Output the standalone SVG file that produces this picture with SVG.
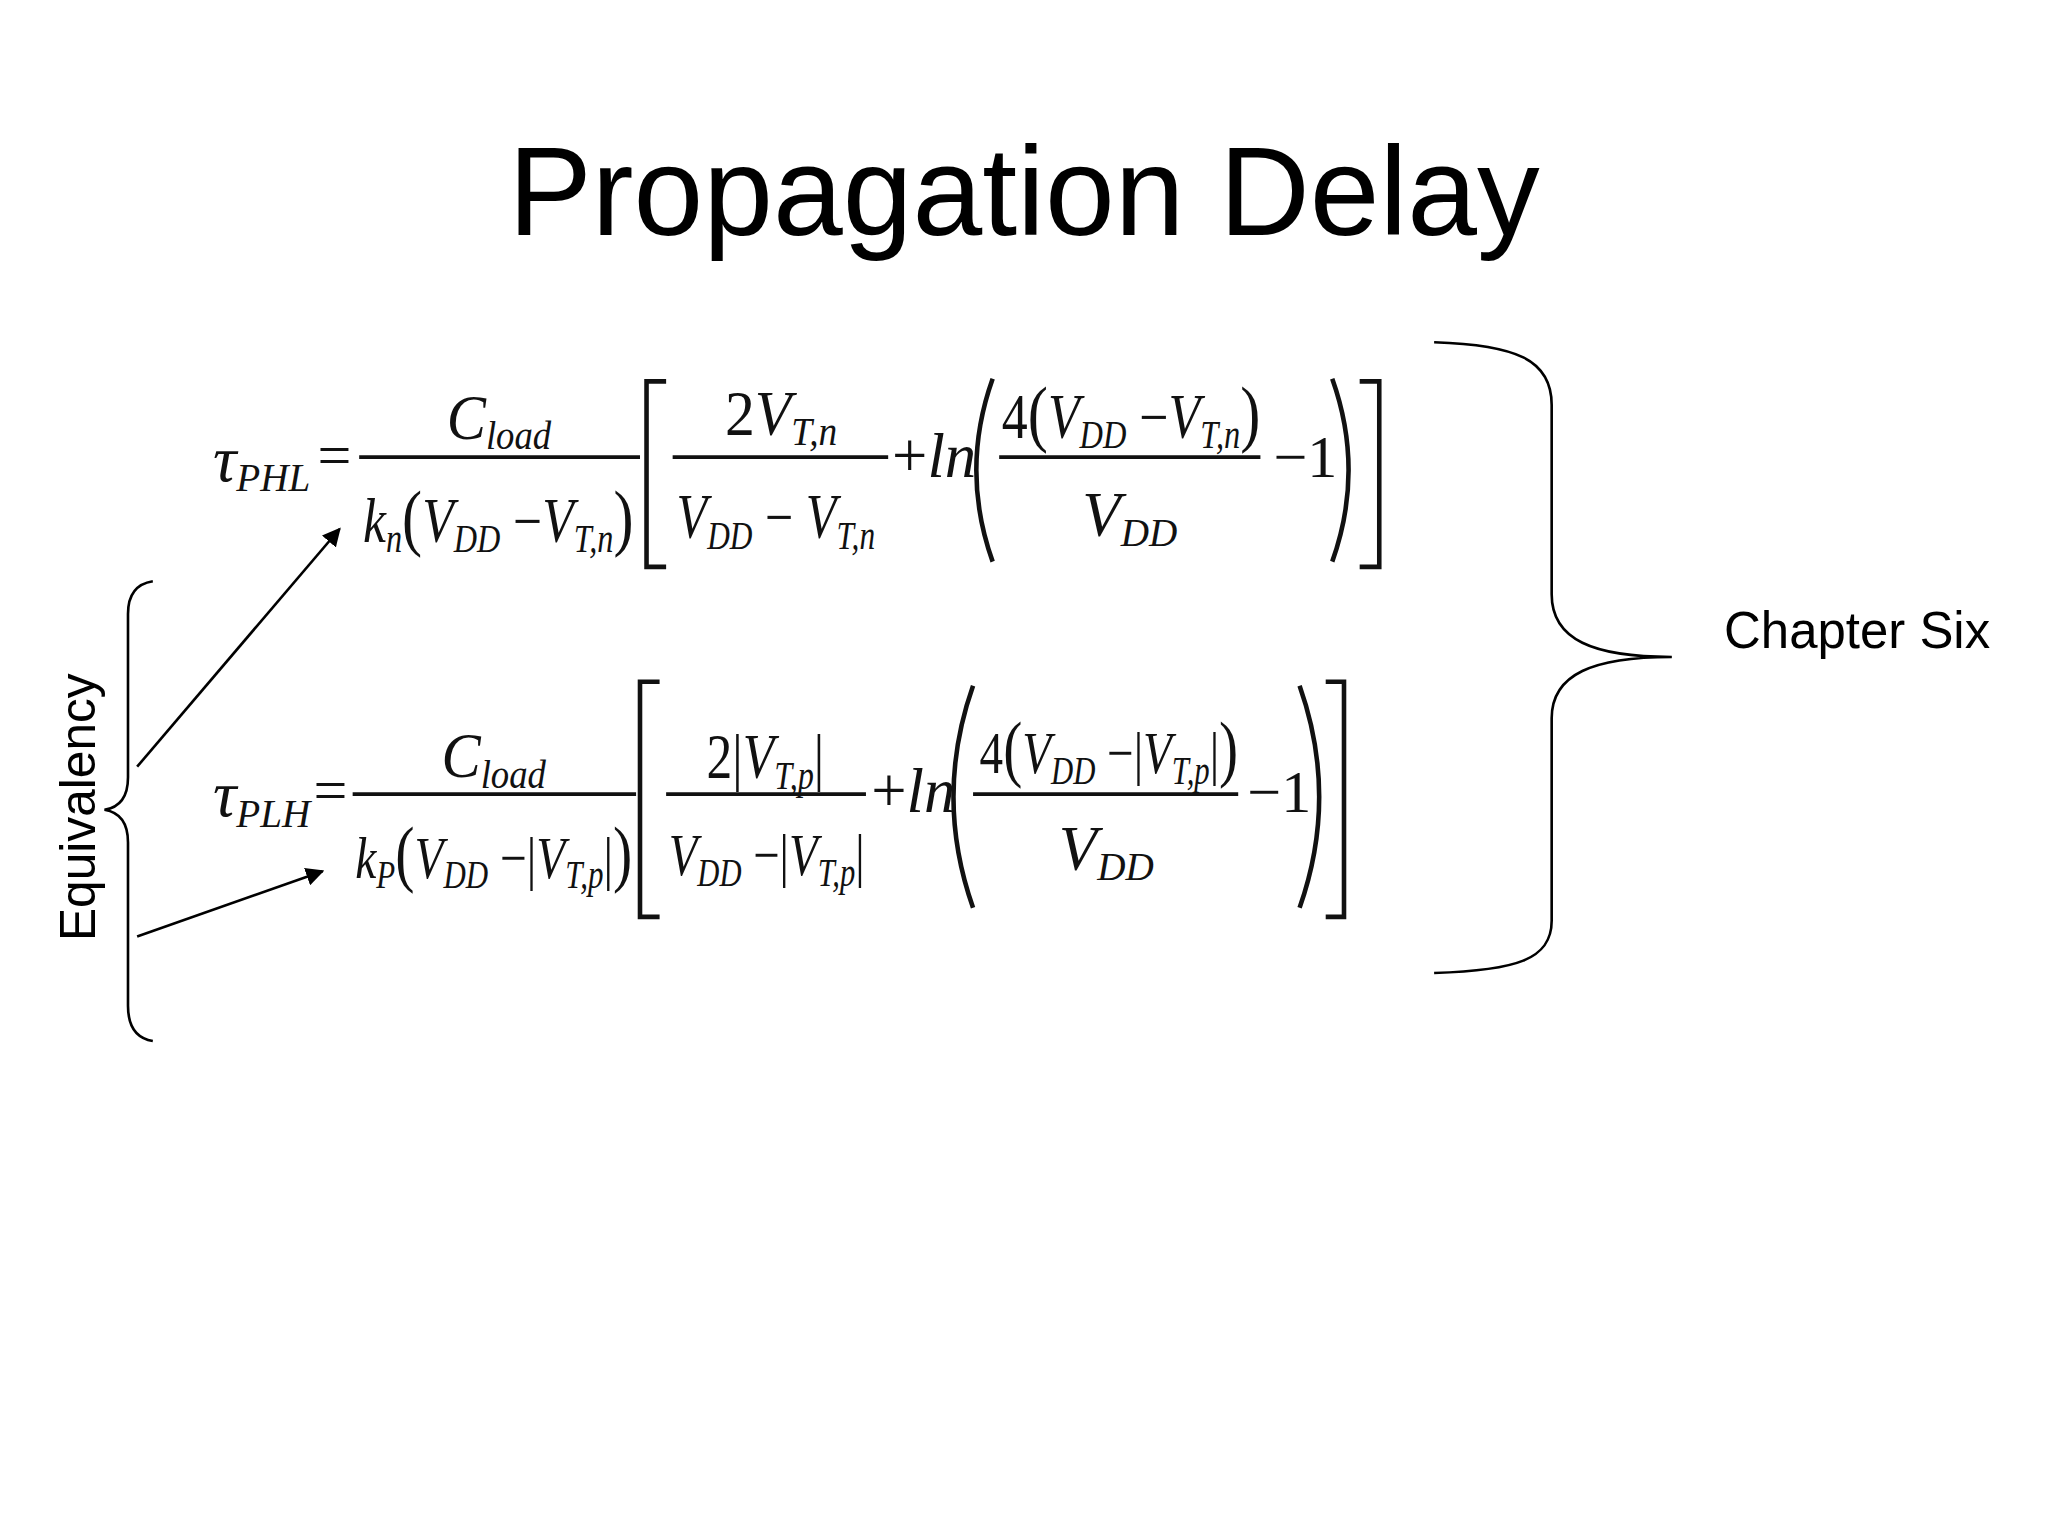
<svg xmlns="http://www.w3.org/2000/svg" width="2048" height="1536" viewBox="0 0 2048 1536">
<style>
.t{font-family:"Liberation Sans",Arial,sans-serif;fill:#000}
.m{font-family:"Liberation Serif","Times New Roman",serif;font-style:italic;fill:#111}
.r{font-family:"Liberation Serif","Times New Roman",serif;fill:#111}
.ln{stroke:#111;stroke-width:3;fill:none}
.d{stroke:#111;stroke-width:3.5;fill:none}
.c{stroke:#000;stroke-width:2;fill:none}
</style>
<defs><marker id="ah" viewBox="0 0 10 10" refX="9" refY="5" markerWidth="7" markerHeight="7" orient="auto"><path d="M0,0L10,5L0,10z" fill="#000"/></marker></defs>
<rect width="2048" height="1536" fill="#fff"/>
<g transform="scale(1.306122)">
<g id="title"><text class="t" x="784" y="180" font-size="96" text-anchor="middle">Propagation Delay</text></g>

<g id="eq1">
<text class="m" x="163" y="368" font-size="50">τ<tspan font-size="30" dy="8">PHL</tspan></text>
<text class="r" x="243" y="364" font-size="46">=</text>
<text class="m" x="382" y="336" font-size="48" text-anchor="middle" textLength="80" lengthAdjust="spacingAndGlyphs">C<tspan font-size="30" dy="8">load</tspan></text>
<line class="ln" x1="275" y1="350" x2="490" y2="350"/>
<text class="m" x="278" y="415" font-size="48" textLength="207" lengthAdjust="spacingAndGlyphs">k<tspan font-size="30" dy="8">n</tspan><tspan dy="-8" font-style="normal" font-size="56">(</tspan>V<tspan font-size="30" dy="8">DD</tspan><tspan dy="-8" font-style="normal"> −</tspan>V<tspan font-size="30" dy="8">T,n</tspan><tspan dy="-8" font-style="normal" font-size="56">)</tspan></text>
<path class="d" d="M510,292H495V434H510"/>
<text class="m" x="598" y="333" font-size="48" text-anchor="middle" textLength="86" lengthAdjust="spacingAndGlyphs"><tspan font-style="normal">2</tspan>V<tspan font-size="30" dy="8">T,n</tspan></text>
<line class="ln" x1="515" y1="350" x2="680" y2="350"/>
<text class="m" x="518" y="412" font-size="48" textLength="152" lengthAdjust="spacingAndGlyphs">V<tspan font-size="30" dy="8">DD</tspan><tspan dy="-8" font-style="normal"> − </tspan>V<tspan font-size="30" dy="8">T,n</tspan></text>
<text class="m" x="683" y="365" font-size="48"><tspan font-style="normal">+</tspan>ln</text>
<path class="d" d="M760,290Q735,360 760,430"/>
<text class="m" x="767" y="335" font-size="48" textLength="198" lengthAdjust="spacingAndGlyphs"><tspan font-style="normal">4</tspan><tspan font-style="normal" font-size="56">(</tspan>V<tspan font-size="30" dy="8">DD</tspan><tspan dy="-8" font-style="normal"> −</tspan>V<tspan font-size="30" dy="8">T,n</tspan><tspan dy="-8" font-style="normal" font-size="56">)</tspan></text>
<line class="ln" x1="765" y1="350" x2="965" y2="350"/>
<text class="m" x="865" y="410" font-size="48" text-anchor="middle">V<tspan font-size="30" dy="8">DD</tspan></text>
<text class="r" x="975" y="365" font-size="46">−1</text>
<path class="d" d="M1020,290Q1045,360 1020,430"/>
<path class="d" d="M1041,292H1056V434H1041"/>
</g>

<g id="eq2">
<text class="m" x="163" y="625" font-size="50">τ<tspan font-size="30" dy="8">PLH</tspan></text>
<text class="r" x="240" y="620" font-size="46">=</text>
<text class="m" x="378" y="595" font-size="48" text-anchor="middle" textLength="80" lengthAdjust="spacingAndGlyphs">C<tspan font-size="30" dy="8">load</tspan></text>
<line class="ln" x1="270" y1="608" x2="487" y2="608"/>
<text class="m" x="272" y="672" font-size="46" textLength="212" lengthAdjust="spacingAndGlyphs">k<tspan font-size="30" dy="8">P</tspan><tspan dy="-8" font-style="normal" font-size="56">(</tspan>V<tspan font-size="30" dy="8">DD</tspan><tspan dy="-8" font-style="normal"> −|</tspan>V<tspan font-size="30" dy="8">T,p</tspan><tspan dy="-8" font-style="normal">|</tspan><tspan font-style="normal" font-size="56">)</tspan></text>
<path class="d" d="M505,522H490V702H505"/>
<text class="m" x="541" y="596" font-size="48" textLength="90" lengthAdjust="spacingAndGlyphs"><tspan font-style="normal">2|</tspan>V<tspan font-size="30" dy="8">T,p</tspan><tspan dy="-8" font-style="normal">|</tspan></text>
<line class="ln" x1="510" y1="608" x2="663" y2="608"/>
<text class="m" x="512" y="670" font-size="46" textLength="150" lengthAdjust="spacingAndGlyphs">V<tspan font-size="30" dy="8">DD</tspan><tspan dy="-8" font-style="normal"> −|</tspan>V<tspan font-size="30" dy="8">T,p</tspan><tspan dy="-8" font-style="normal">|</tspan></text>
<text class="m" x="667" y="622" font-size="48"><tspan font-style="normal">+</tspan>ln</text>
<path class="d" d="M745,525Q715,610 745,695"/>
<text class="m" x="750" y="592" font-size="46" textLength="198" lengthAdjust="spacingAndGlyphs"><tspan font-style="normal">4</tspan><tspan font-style="normal" font-size="56">(</tspan>V<tspan font-size="30" dy="8">DD</tspan><tspan dy="-8" font-style="normal"> −|</tspan>V<tspan font-size="30" dy="8">T,p</tspan><tspan dy="-8" font-style="normal">|</tspan><tspan font-style="normal" font-size="56">)</tspan></text>
<line class="ln" x1="745" y1="608" x2="948" y2="608"/>
<text class="m" x="847" y="666" font-size="48" text-anchor="middle">V<tspan font-size="30" dy="8">DD</tspan></text>
<text class="r" x="955" y="622" font-size="46">−1</text>
<path class="d" d="M995,525Q1025,610 995,695"/>
<path class="d" d="M1015,522H1029V702H1015"/>
</g>

<g id="chapter">
<path class="c" d="M1098,262C1160,264 1188,275 1188,310V455C1188,490 1220,503 1280,503C1220,503 1188,516 1188,550V705C1188,735 1160,743 1098,745"/>
<text class="t" x="1320" y="496" font-size="39">Chapter Six</text>
</g>

<g id="equivalency">
<path class="c" d="M117,445C104,447 98,455 98,470V595C98,610 92,618 80,620C92,622 98,630 98,645V770C98,785 104,795 117,797"/>
<text class="t" transform="translate(73,618) rotate(-90)" font-size="38" text-anchor="middle">Equivalency</text>
</g>

<g id="connectors">
<line class="c" x1="105" y1="587" x2="260" y2="405" marker-end="url(#ah)"/>
<line class="c" x1="105" y1="717" x2="247" y2="667" marker-end="url(#ah)"/>
</g>
</g>
</svg>
